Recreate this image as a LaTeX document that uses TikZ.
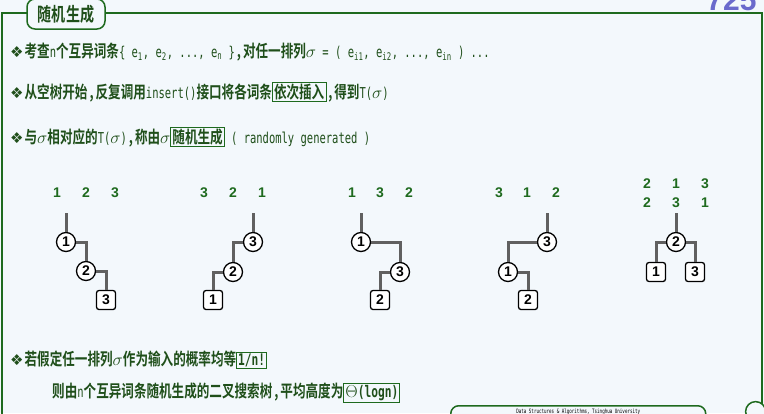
\documentclass[tikz,border=0pt]{standalone}
\usepackage{fontspec}
\setmainfont{Liberation Sans}
\newfontfamily\cjk{Noto Sans CJK SC}[BoldFont={Noto Sans CJK SC Bold},BoldFeatures={FakeStretch=0.74},FakeStretch=0.74]
\newfontfamily\djv{DejaVu Sans}
\setmonofont{DejaVu Sans Mono}[FakeStretch=0.7,BoldFeatures={FakeStretch=0.7}]
\definecolor{bg}{HTML}{F3F8FC}
\definecolor{dg}{HTML}{1E6A1E}
\definecolor{tx}{HTML}{1F4F1A}
\definecolor{eg}{HTML}{606060}
\definecolor{pu}{HTML}{6A6ACC}
\newcommand{\bx}[1]{{\setlength{\fboxsep}{1.2pt}\setlength{\fboxrule}{0.8pt}\fcolorbox{dg}{bg}{#1}}}
\newcommand{\bul}{{\djv\fontsize{15}{15}\selectfont ❖}\hspace{1pt}}
\newcommand{\sg}{{\fontfamily{lmr}\selectfont$\sigma$}}
\newcommand{\mt}{\ttfamily\mdseries\fontsize{15}{16}\selectfont}
\newcommand{\cm}{\hspace{2pt},\hspace{2pt}}
\begin{document}
\begin{tikzpicture}[x=1pt,y=-1pt,
  line/.style={anchor=west,inner sep=0pt,text=tx,font=\cjk\bfseries\fontsize{17}{18}\selectfont},
  lab/.style={text=dg,font=\bfseries\fontsize{14}{16}\selectfont},
  cn/.style={circle,draw=black,fill=white,line width=1.3pt,minimum size=19pt,inner sep=0pt,font=\bfseries\fontsize{14}{14}\selectfont},
  sn/.style={rectangle,rounded corners=2.5pt,draw=black,fill=white,line width=1.3pt,minimum size=19pt,inner sep=0pt,font=\bfseries\fontsize{14}{14}\selectfont},
  ed/.style={draw=eg,line width=3pt}]
\clip (0,0) rectangle (764,413);
\fill[bg] (0,0) rectangle (764,413);
\node[text=pu,font=\bfseries\fontsize{30}{30}\selectfont,anchor=east] (pg) at (760,0) {725};
\draw[dg,line width=1.5pt] (2,430) -- (2,13) -- (762,13) -- (762,430);
\node[draw=dg,line width=1.5pt,fill=bg,rounded corners=8pt,minimum width=78pt,minimum height=30pt,text=tx,font=\cjk\bfseries\fontsize{19}{20}\selectfont] (title) at (66,14) {随机生成};
% text lines
\node[line] (l1) at (10,52) {\bul 考查{\mt n}个互异词条{\mt\{ e\textsubscript{1}, e\textsubscript{2}, ..., e\textsubscript{n} \}}\cm 对任一排列\sg{\mt{} = ( e\textsubscript{i1}, e\textsubscript{i2}, ..., e\textsubscript{in} ) ...}};
\node[line] (l2) at (10,92) {\bul 从空树开始\cm 反复调用{\mt insert()}接口将各词条\bx{依次插入}\cm 得到{\mt T(}\sg{\mt)}};
\node[line] (l3) at (10,137) {\bul 与\sg 相对应的{\mt T(}\sg{\mt)}\cm 称由\sg\bx{随机生成}{\mt{} ( randomly generated )}};
\node[line] (l4) at (10,360) {\bul 若假定任一排列\sg 作为输入的概率均等\bx{\ttfamily\bfseries\fontsize{16}{16}\selectfont 1/n!}};
\node[line] (l5) at (52,393) {则由{\mt n}个互异词条随机生成的二叉搜索树\cm 平均高度为\bx{\ttfamily\bfseries\fontsize{16}{16}\selectfont{\fontfamily{lmr}\selectfont$\Theta$}(logn)}};
% tree 1
\node[lab] (a1) at (57,193) {1}; \node[lab] (a2) at (86,193) {2}; \node[lab] (a3) at (115,193) {3};
\coordinate (s1) at (66,213);
\node[cn] (t1a) at (66,242) {1}; \node[cn] (t1b) at (86,271) {2}; \node[sn] (t1c) at (106,300) {3};
\draw[ed] (s1) -- (t1a.north);
\draw[ed] (t1a.east) -| (t1b.north); \draw[ed] (t1b.east) -| (t1c.north);
% tree 2
\node[lab] (b1) at (204,193) {3}; \node[lab] (b2) at (233,193) {2}; \node[lab] (b3) at (262,193) {1};
\coordinate (s2) at (253,213);
\node[cn] (t2a) at (253,242) {3}; \node[cn] (t2b) at (233,272) {2}; \node[sn] (t2c) at (213,300) {1};
\draw[ed] (s2) -- (t2a.north);
\draw[ed] (t2a.west) -| (t2b.north); \draw[ed] (t2b.west) -| (t2c.north);
% tree 3
\node[lab] (c1) at (352,193) {1}; \node[lab] (c2) at (380,193) {3}; \node[lab] (c3) at (409,193) {2};
\coordinate (s3) at (361,213);
\node[cn] (t3a) at (361,242) {1}; \node[cn] (t3b) at (400,272) {3}; \node[sn] (t3c) at (380,300) {2};
\draw[ed] (s3) -- (t3a.north);
\draw[ed] (t3a.east) -| (t3b.north); \draw[ed] (t3b.west) -| (t3c.north);
% tree 4
\node[lab] (d1) at (499,193) {3}; \node[lab] (d2) at (527,193) {1}; \node[lab] (d3) at (556,193) {2};
\coordinate (s4) at (547,213);
\node[cn] (t4a) at (547,242) {3}; \node[cn] (t4b) at (508,272) {1}; \node[sn] (t4c) at (528,300) {2};
\draw[ed] (s4) -- (t4a.north);
\draw[ed] (t4a.west) -| (t4b.north); \draw[ed] (t4b.east) -| (t4c.north);
% tree 5
\node[lab] (e1) at (647,184) {2}; \node[lab] (e2) at (676,184) {1}; \node[lab] (e3) at (705,184) {3};
\node[lab] (f1) at (647,203) {2}; \node[lab] (f2) at (676,203) {3}; \node[lab] (f3) at (705,203) {1};
\coordinate (s5) at (676,213);
\node[cn] (t5a) at (676,242) {2}; \node[sn] (t5b) at (656,272) {1}; \node[sn] (t5c) at (695,272) {3};
\draw[ed] (s5) -- (t5a.north);
\draw[ed] (t5a.west) -| (t5b.north); \draw[ed] (t5a.east) -| (t5c.north);
% footer
\node[draw=dg,line width=1.5pt,fill=bg,rounded corners=8pt,minimum width=255pt,minimum height=20pt,anchor=north west,text=black,font=\ttfamily\fontsize{6}{7}\selectfont,text depth=10pt] (ft) at (450,405) {Data Structures \& Algorithms, Tsinghua University};
\node[draw=dg,line width=1.5pt,fill=bg,circle,minimum size=20pt,anchor=north west] (fc) at (748,404) {};
\end{tikzpicture}
\end{document}
